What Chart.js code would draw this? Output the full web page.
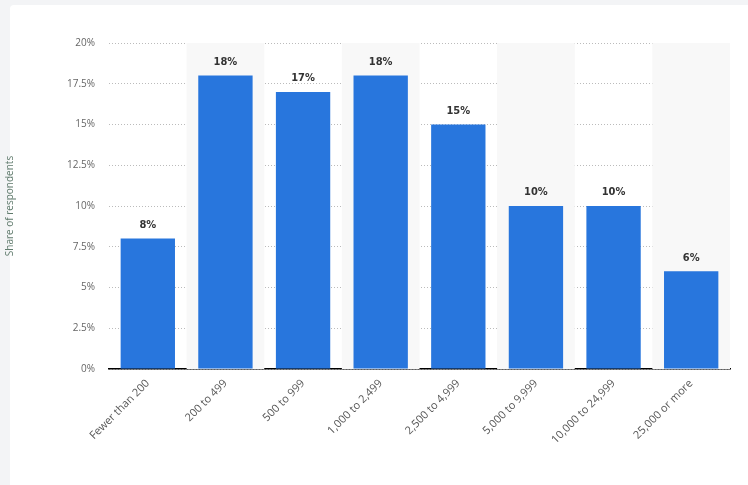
<!DOCTYPE html>
<html><head><meta charset="utf-8">
<script src="https://cdn.jsdelivr.net/npm/chart.js@4/dist/chart.umd.min.js"></script>
<style>html,body{margin:0;padding:0;background:#f3f4f6;}
#card{position:absolute;left:10px;top:5px;width:748px;height:490px;background:#fff;border-radius:4px;}
#wrap{position:absolute;left:0;top:0;width:748px;height:485px;}</style>
</head><body><div id="card"></div><div id="wrap"><canvas id="c"></canvas></div>
<script>
const categories=["Fewer than 200","200 to 499","500 to 999","1,000 to 2,499","2,500 to 4,999","5,000 to 9,999","10,000 to 24,999","25,000 or more"];
const values=[8,18,17,18,15,10,10,6];
const yTicks=[0,2.5,5,7.5,10,12.5,15,17.5,20];
const bands={id:'bands',beforeDatasetsDraw(ch){const {ctx,chartArea:a,scales:{x}}=ch;ctx.save();ctx.fillStyle='#f8f8f8';
 const w=(a.right-a.left)/categories.length;
 categories.forEach((c,i)=>{if(i%2===1)ctx.fillRect(a.left+i*w,a.top,w,a.bottom-a.top);});ctx.restore();}};
const labels={id:'labels',afterDatasetsDraw(ch){const {ctx}=ch;const m=ch.getDatasetMeta(0);ctx.save();ctx.font='bold 11px "DejaVu Sans Condensed","Liberation Sans Narrow",sans-serif';ctx.fillStyle='#333';ctx.textAlign='center';ctx.textBaseline='bottom';
 m.data.forEach((b,i)=>ctx.fillText(values[i]+'%',b.x,b.y-8));ctx.restore();}};
new Chart(document.getElementById('c'),{type:'bar',
data:{labels:categories,datasets:[{data:values,backgroundColor:'#2876dd',barPercentage:0.7,categoryPercentage:1}]},
options:{responsive:true,maintainAspectRatio:false,animation:false,
 layout:{padding:{top:43,right:18,left:0,bottom:0}},
 plugins:{legend:{display:false},tooltip:{enabled:false}},
 scales:{
  x:{afterFit(s){s.height=116;},grid:{display:false,drawTicks:false},border:{color:'#000',width:1.5},
     ticks:{color:'#555',font:{size:11,family:'"Open Sans",sans-serif'},maxRotation:45,minRotation:45,padding:8}},
  y:{min:0,max:20,afterFit(s){s.width=109;},afterBuildTicks(s){s.ticks=yTicks.map(v=>({value:v}));},
     grid:{color:'#bbb',lineWidth:1,drawTicks:false},border:{display:false,dash:[1,2]},
     ticks:{color:'#666',padding:14,font:{size:10,family:'"Open Sans",sans-serif'},callback:v=>v+'%'},
     title:{display:true,text:'Share of respondents',color:'#5f7a6c',font:{size:10,family:'"Open Sans",sans-serif'},padding:{bottom:10}}}
 }},
plugins:[bands,labels]});
</script></body></html>
